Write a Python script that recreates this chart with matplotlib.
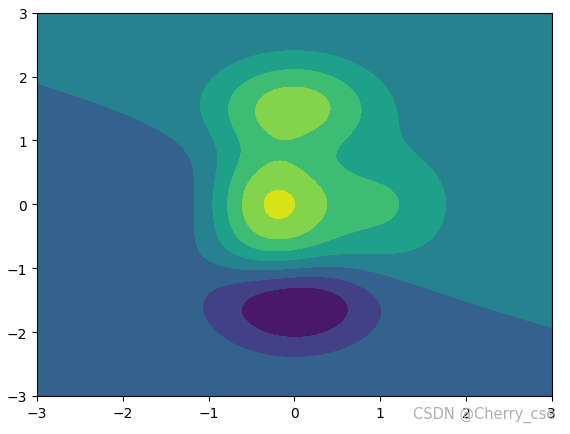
import numpy as np
import matplotlib
matplotlib.use("Agg")
import matplotlib.pyplot as plt

# dominio y resolucion de la malla
x_range = [-3, 3]
y_range = [-3, 3]
n_puntos = 256

# ticks de los ejes
x_ticks = [-3, -2, -1, 0, 1, 2, 3]
y_ticks = [-3, -2, -1, 0, 1, 2, 3]


def f(x, y):
    # superficie: (1 - x/2 + x^3 + y^5) * exp(-x^2 - y^2)
    return (1 - x / 2 + x ** 3 + y ** 5) * np.exp(-x ** 2 - y ** 2)


x = np.linspace(x_range[0], x_range[1], n_puntos)
y = np.linspace(y_range[0], y_range[1], n_puntos)
X, Y = np.meshgrid(x, y)

fig = plt.figure(figsize=(5.7, 4.35), dpi=100)
ax = fig.add_axes([0.065, 0.0874, 0.903, 0.881])
ax.contourf(X, Y, f(X, Y))
ax.set_xticks(x_ticks)
ax.set_yticks(y_ticks)

# marca de agua
fig.text(0.975, 0.028, "CSDN @Cherry_cse", ha="right", va="bottom",
         color="#b0b0b0", fontsize=10.5)

plt.savefig("out.png")
